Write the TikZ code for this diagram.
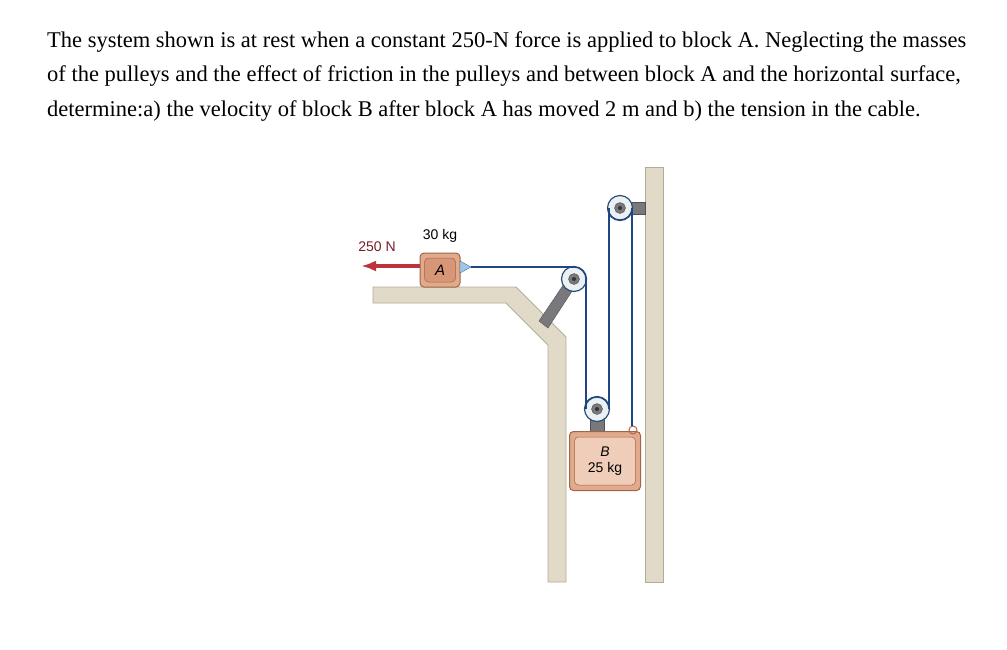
\documentclass[tikz,border=0pt]{standalone}
\usepackage{fontspec}
\setmainfont{Liberation Serif}
\newfontfamily\sans{Liberation Sans}
\usetikzlibrary{arrows.meta}
\definecolor{wallf}{RGB}{226,218,200}
\definecolor{walld}{RGB}{180,170,150}
\definecolor{cab}{RGB}{30,70,130}
\definecolor{pulf}{RGB}{235,240,242}
\definecolor{puld}{RGB}{40,80,120}
\definecolor{armf}{RGB}{120,120,125}
\definecolor{armd}{RGB}{80,80,85}
\definecolor{blkf}{RGB}{225,170,140}
\definecolor{blkd}{RGB}{160,100,70}
\definecolor{blki}{RGB}{215,150,120}
\definecolor{blkj}{RGB}{240,205,185}
\definecolor{trif}{RGB}{160,200,230}
\definecolor{trid}{RGB}{60,110,150}
\definecolor{forc}{RGB}{190,50,60}
\definecolor{forl}{RGB}{120,30,40}
\definecolor{hook}{RGB}{180,100,80}
\begin{document}
\begin{tikzpicture}[x=1pt,y=-1pt,
  wall/.style={fill=wallf,draw=walld,line width=0.8},
  cable/.style={draw=cab,line width=1.3},
  pulley/.style={circle,minimum size=25pt,inner sep=0,fill=pulf,draw=puld,line width=1.2},
  arm/.style={fill=armf,draw=armd},
  blk/.style={rounded corners=4pt,fill=blkf,draw=blkd,line width=1},
  lbl/.style={font=\sans\fontsize{14}{16}\selectfont}]
\useasboundingbox (0,0) rectangle (1007,649);
\node[anchor=north west,align=left,font=\fontsize{22.5}{34.5}\selectfont,inner sep=0] (txt) at (47,31)
 {The system shown is at rest when a constant 250-N force is applied to block A. Neglecting the masses\\
  of the pulleys and the effect of friction in the pulleys and between block A and the horizontal surface,\\
  determine:a) the velocity of block B after block A has moved 2 m and b) the tension in the cable.};
% walls
\draw[wall] (373,287) -- (516,287) -- (566,337) -- (566,582) -- (548,582) -- (548,345) -- (506,303) -- (373,303) -- cycle;
\draw[wall] (645,167) rectangle (663,582);
% arms
\draw[arm] (539,321) -- (548,328) -- (578,282) -- (570,275) -- cycle;
\draw[arm] (620,202) rectangle (645,214);
\draw[arm] (590,409) rectangle (604,432);
% pulleys
\node[pulley] (p1) at (574,279) {};
\node[pulley] (p2) at (620,208) {};
\node[pulley] (p3) at (597,409) {};
\foreach \p in {p1,p2,p3}{\filldraw[fill=armf,draw=armd] (\p) circle (5.5); \fill[black!80] (\p) circle (2);}
% block A
\node[blk,minimum width=40pt,minimum height=34pt] (A) at (440,270) {};
\node[blk,minimum width=31pt,minimum height=24pt,fill=blki,line width=0.5] at (A) {\sans\itshape\fontsize{15}{17}\selectfont A};
\filldraw[fill=trif,draw=trid] (460,261) -- (471,267) -- (460,273) -- cycle;
\node[lbl] at (440,236) {30 kg};
\node[lbl,text=forl] at (377,247) {250 N};
\coordinate (fa) at (420,266);
\coordinate (fb) at (361,266);
\draw[-{Latex[length=15pt,width=11pt]},line width=3.2,forc] (fa) -- (fb);
% block B
\node[blk,minimum width=71pt,minimum height=59pt] (B) at (605,461) {};
\node[blk,minimum width=61pt,minimum height=48pt,fill=blkj,line width=0.5,align=center,font=\sans\fontsize{14}{16}\selectfont] at (B) {\itshape B\\25 kg};
\draw[hook,line width=1] (633,430) circle (4);
% cable
\draw[cable] (471,267) -- (574,267);
\draw[cable] (586,279) -- (586,409);
\draw[cable] (609,409) -- (609,208);
\draw[cable] (632,208) -- (632,426);
\draw[cable] (574,267) arc (-90:0:12);
\draw[cable] (585,409) arc (180:360:12);
\draw[cable] (608,208) arc (180:0:12);
\end{tikzpicture}
\end{document}
